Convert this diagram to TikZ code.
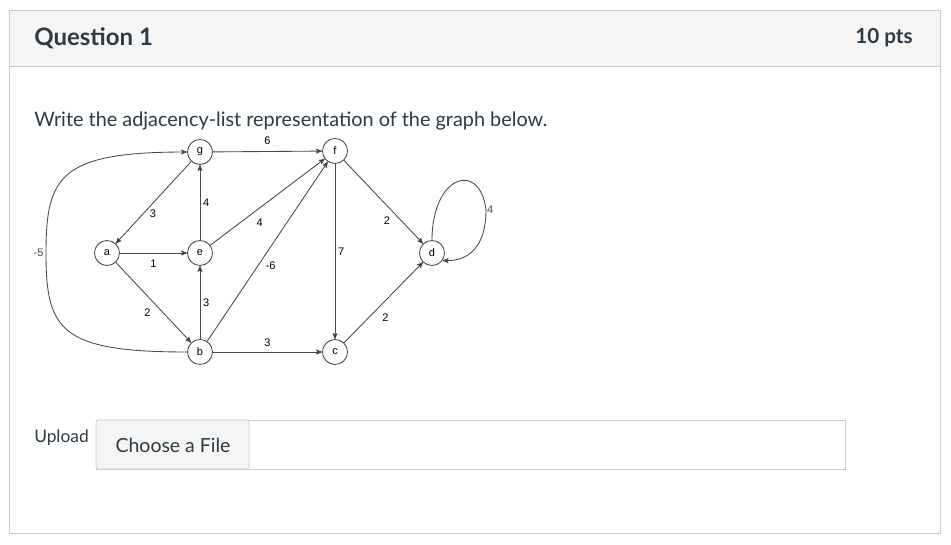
\documentclass[tikz,border=0pt]{standalone}
\usepackage{fontspec}
\setmainfont{Lato}
\newfontfamily\arialfont{Liberation Sans}
\usetikzlibrary{arrows}

\definecolor{framegray}{HTML}{C7CDD1}
\definecolor{headfill}{HTML}{F5F5F5}
\definecolor{inktext}{HTML}{2D3B45}
\definecolor{edgegray}{HTML}{4A4A4A}

\tikzset{
  vertex/.style={shape=circle, draw=edgegray, line width=0.65pt, minimum size=18.75pt,
    inner sep=0pt, font=\arialfont\fontsize{8.25}{9}\selectfont},
  lbl/.style={font=\arialfont\fontsize{8.25}{9}\selectfont, inner sep=2pt},
  pagetext/.style={text=inktext, inner sep=0pt, anchor=west}
}

\begin{document}
\begin{tikzpicture}[x=0.75pt,y=-0.75pt,>=stealth',auto]
  \useasboundingbox[fill=white] (0,0) rectangle (951,545);

  % question frame and header band
  \draw[framegray, fill=white] (9,10) rectangle (940,533);
  \draw[framegray, fill=headfill] (9,10) rectangle (940,66);
  \node (title) [pagetext, font=\bfseries\fontsize{18}{20}\selectfont] at (34,38) {Question 1};
  \node (points) [pagetext, anchor=east, font=\bfseries\fontsize{15.5}{18}\selectfont] at (913,38) {10 pts};
  \node (prompt) [pagetext, font=\fontsize{14.9}{17}\selectfont] at (34,121)
    {Write the adjacency-list representation of the graph below.};

  % graph
  \node (g) [vertex] at (200,152) {g};
  \node (f) [vertex] at (335,151) {f};
  \node (a) [vertex] at (107,253) {a};
  \node (e) [vertex] at (200,253) {e};
  \node (d) [vertex] at (432,253) {d};
  \node (b) [vertex] at (200,352) {b};
  \node (c) [vertex] at (335,352) {c};

  \path[->, draw=edgegray, line width=0.65pt]
    (g) edge node[lbl, above=2.5pt] {6} (f)
    (g) edge node[lbl, pos=0.57, below right, inner sep=1pt] {3} (a)
    (e) edge node[lbl, right] {4} (g)
    (a) edge node[lbl, below=3pt] {1} (e)
    (a) edge node[lbl, pos=0.52, below left, inner sep=3pt] {2} (b)
    (b) edge node[lbl, right] {3} (e)
    (e) edge node[lbl, pos=0.36, below right, inner sep=3.5pt] {4} (f)
    (b) edge node[lbl, pos=0.46, below right] {-6} (f)
    (f) edge node[lbl, right] {7} (c)
    (f) edge node[lbl, pos=0.63, below left, inner sep=2.5pt] {2} (d)
    (c) edge node[lbl, pos=0.42, below right, inner sep=3.5pt] {2} (d)
    (b) edge node[lbl, above=1.5pt] {3} (c);

  % long way round from b back to g
  \draw[->, edgegray, line width=0.65pt] (b.west) .. controls (60,352) and (46,330) .. (46,253)
    node[lbl, left, inner sep=1.5pt] {-5}
    .. controls (46,176) and (60,152) .. (g.west);

  % loop on d
  \draw[->, edgegray, line width=0.65pt] (d.north) .. controls (432,175) and (480,160) .. (486,210)
    node[lbl, right, inner sep=0.5pt] {4}
    .. controls (486,245) and (470,262) .. (d.-35);

  % upload row
  \node (upload) [pagetext, font=\fontsize{13}{15}\selectfont] at (34,438) {Upload};
  \draw[framegray, fill=white] (96,420) rectangle (845,469);
  \draw[framegray, fill=headfill, rounded corners=2pt] (96,420) rectangle (249,469);
  \node (choose) [text=inktext, font=\fontsize{14.6}{16}\selectfont] at (173,445) {Choose a File};
\end{tikzpicture}
\end{document}
